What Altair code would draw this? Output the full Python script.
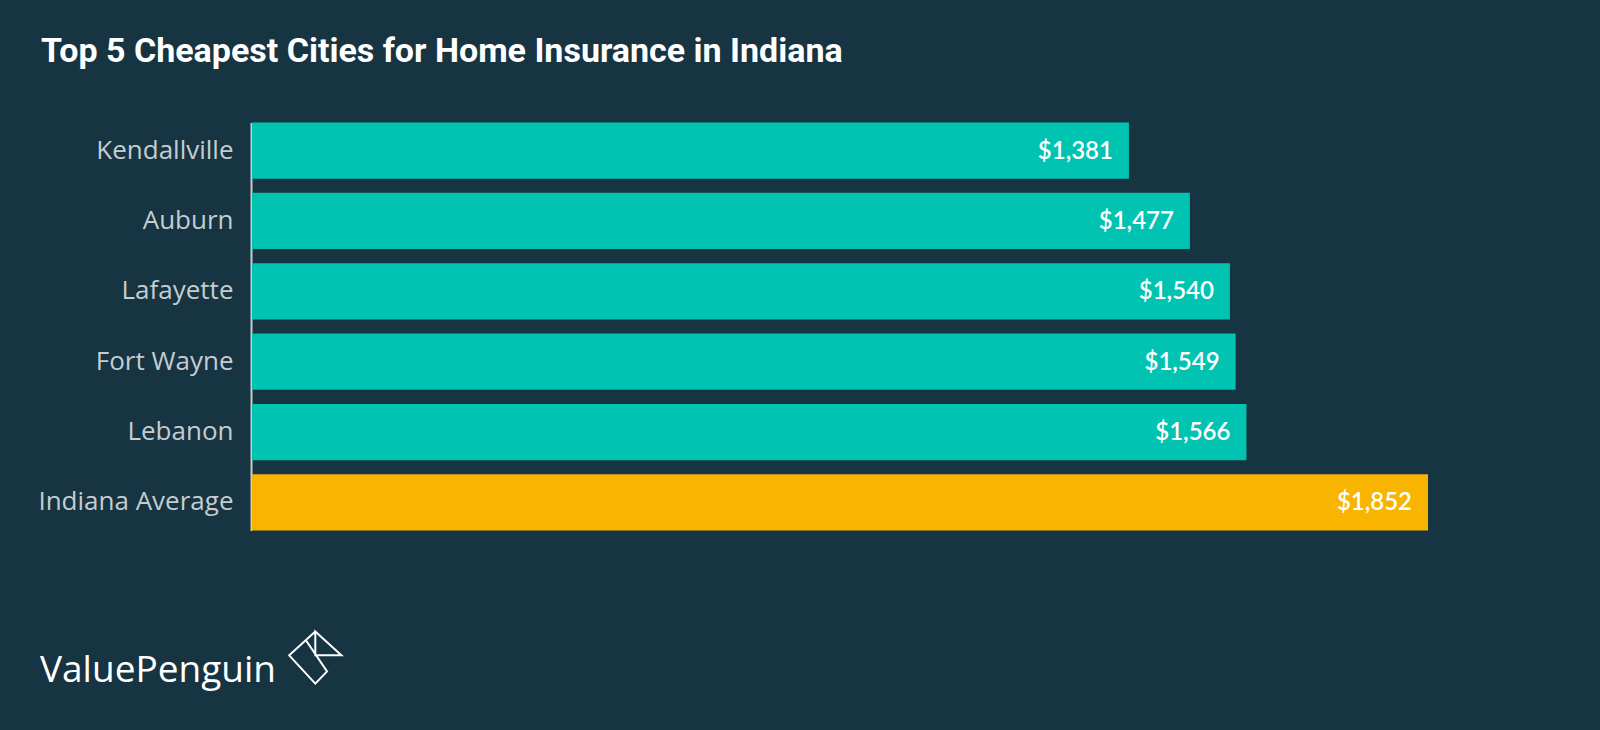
import altair as alt
import pandas as pd

cities = ["Kendallville", "Auburn", "Lafayette", "Fort Wayne", "Lebanon", "Indiana Average"]
premiums = [1381, 1477, 1540, 1549, 1566, 1852]
kinds = ["city", "city", "city", "city", "city", "average"]
labels = ["$1,381", "$1,477", "$1,540", "$1,549", "$1,566", "$1,852"]

title_text = "Top 5 Cheapest Cities for Home Insurance in Indiana"
brand_text = "ValuePenguin"

BG = "#163441"
TEAL = "#00c4b1"
GOLD = "#f9b400"

df = pd.DataFrame({"city": cities, "premium": premiums, "kind": kinds, "label": labels})

PLOT_W = 1270
PLOT_H = 408

x_enc = alt.X("premium:Q", scale=alt.Scale(domain=[0, 2000], nice=False, zero=True), axis=None)
y_enc = alt.Y(
    "city:N",
    sort=cities,
    scale=alt.Scale(paddingInner=0.2, paddingOuter=0),
    axis=alt.Axis(
        title=None,
        ticks=False,
        tickSize=0,
        grid=False,
        domain=True,
        domainColor="#c5cdd1",
        domainWidth=2,
        offset=1,
        labelPadding=18,
        labelFont="Open Sans",
        labelFontSize=26,
        labelColor="#c5cdd1",
        labelLimit=400,
    ),
)

bars = alt.Chart(df).mark_bar().encode(
    x=x_enc,
    y=y_enc,
    color=alt.Color("kind:N", scale=alt.Scale(domain=["city", "average"], range=[TEAL, GOLD]), legend=None),
)

values = alt.Chart(df).mark_text(
    align="right", baseline="middle", dx=-16, dy=1, font="Lato", fontSize=24, fontWeight=600, color="white"
).encode(x=x_enc, y=alt.Y("city:N", sort=cities), text="label:N")

one = alt.Data(values=[{"a": 1}])

title = alt.Chart(one).mark_text(
    align="left", baseline="alphabetic", font="Roboto", fontSize=34, fontWeight="bold", color="white"
).encode(x=alt.value(-211), y=alt.value(-60.8), text=alt.value(title_text))

brand = alt.Chart(one).mark_text(
    align="left", baseline="alphabetic", font="Open Sans", fontSize=37, fontWeight=400, color="white"
).encode(x=alt.value(-212), y=alt.value(559), text=alt.value(brand_text))

logo_path = (
    "M0,-1 L-1,-0.083 L0,1 L0.45,0.53 L-0.36,-0.66 "
    "M0,-1 L1,-0.083 L0,-0.083 Z"
)
logo = alt.Chart(one).mark_point(
    shape=logo_path, filled=False, stroke="white", strokeWidth=2, size=2725, opacity=1
).encode(x=alt.value(63.3), y=alt.value(535))

chart = (
    alt.layer(bars, values, title, brand, logo)
    .resolve_scale(y="shared")
    .properties(
        width=PLOT_W,
        height=PLOT_H,
        background=BG,
        padding={"left": 244, "top": 114.5, "right": 70, "bottom": 191},
        autosize=alt.AutoSizeParams(type="none"),
    )
    .configure_view(stroke=None)
)

# page background matching the chart (fills the 8px page margin)
try:
    import jinja2
    from altair.utils.html import HTML_TEMPLATE

    class StyledTemplate(jinja2.Template):
        def render(self, *args, **kwargs):
            out = HTML_TEMPLATE.render(*args, **kwargs)
            return out.replace("<head>", "<head><style>body{background:" + BG + ";}</style>", 1)

    page_template = StyledTemplate("")
except Exception:
    page_template = None

saved = False
if page_template is not None:
    try:
        chart.save("out.html", embed_options={"renderer": "svg", "actions": False}, template=page_template)
        saved = True
    except Exception:
        saved = False
if not saved:
    chart.save("out.html", embed_options={"renderer": "svg", "actions": False})
